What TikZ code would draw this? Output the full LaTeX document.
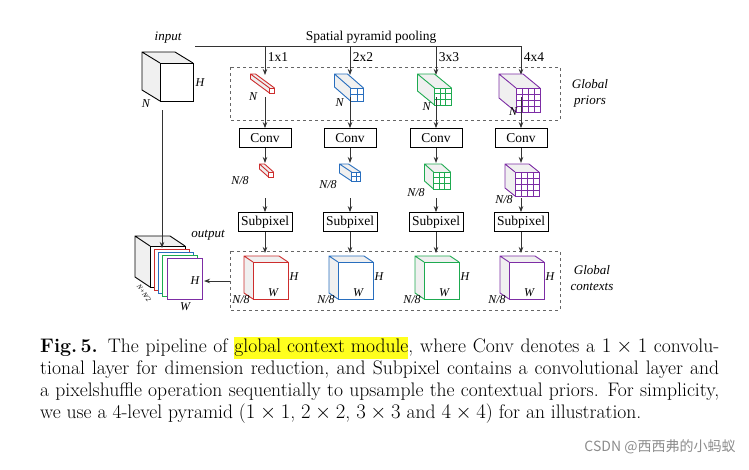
\documentclass[tikz,border=0pt]{standalone}
\usepackage{fontspec}
\newfontfamily\tms{Liberation Serif}
\newfontfamily\cjk{Noto Sans CJK SC}
\usepackage{tikz}
\usetikzlibrary{calc, arrows.meta}
\definecolor{cred}{RGB}{205,45,45}
\definecolor{cblue}{RGB}{40,110,190}
\definecolor{cgreen}{RGB}{30,170,80}
\definecolor{cpurple}{RGB}{125,45,165}
\definecolor{hilite}{RGB}{255,255,30}

% #1,#2: front top-left, #3,#4: size, #5,#6: depth, #7: colour, #8: grid
\newcommand{\tcube}[8]{
    \fill[gray!12] (#1,#2) -- ++(-#5,-#6) -- ++(0,#4) -- ++(#5,#6) -- cycle;
    \fill[gray!12] (#1,#2) -- ++(-#5,-#6) -- ++(#3,0) -- ++(#5,#6) -- cycle;
    \draw[#7, line width=0.9pt, line join=round]
        (#1,#2) -- ++(-#5,-#6) -- ++(#3,0) -- ++(#5,#6)
        (#1,#2) ++(-#5,-#6) -- ++(0,#4) -- ++(#5,#6);
    \draw[#7, line width=0.9pt, fill=white] (#1,#2) rectangle ++(#3,#4);
    \ifnum#8>1
        \pgfmathtruncatemacro{\gl}{#8-1}
        \foreach \k in {1,...,\gl} {
            \draw[#7, line width=0.8pt] ($(#1,#2)+(\k*#3/#8,0)$) -- ++(0,#4);
            \draw[#7, line width=0.8pt] ($(#1,#2)+(0,\k*#4/#8)$) -- ++(#3,0);
        }
    \fi
}

\begin{document}
\begin{tikzpicture}[x=1pt, y=-1pt,
    box/.style={draw, line width=0.8pt, minimum height=19pt, inner sep=2pt, font=\tms\fontsize{13.5}{15}\selectfont},
    lbl/.style={font=\tms\itshape\fontsize{12}{14}\selectfont, inner sep=0pt},
    txt/.style={font=\tms\fontsize{13.5}{15}\selectfont, inner sep=0pt},
    arr/.style={-{Stealth[length=6pt, width=4.5pt]}, line width=0.8pt, draw=black!80},
    region/.style={draw=black!60, dashed, line width=0.8pt}]
\useasboundingbox (0,0) rectangle (749,469);

% --- input ---
\tcube{160}{63}{33}{38}{18}{11}{black}{1}
\node[lbl, font=\tms\itshape\fontsize{13}{15}\selectfont] (input) at (168,38) {input};
\node[lbl] (inH) at (200,83) {H};
\node[lbl] (inN) at (146,104) {N};
\coordinate (inbot) at (162,110);

% --- pooling line ---
\coordinate (spL) at (195,46);
\coordinate (spR) at (521,46);
\draw[line width=0.8pt, black!80] (spL) -- (spR);
\node[txt] (spp) at (371,37) {Spatial pyramid pooling};

% --- regions ---
\draw[region] (230,67) rectangle (560,120);
\node[lbl, align=center, font=\tms\itshape\fontsize{13}{16}\selectfont] (gpri) at (590,93) {Global\\priors};
\draw[region] (230,251) rectangle (560,310);
\node[lbl, align=center, font=\tms\itshape\fontsize{13}{16}\selectfont] (gctx) at (592,278) {Global\\contexts};

% --- four branches ---
\foreach \cx/\col/\n/\name/\pw/\pdx/\sw/\sdx/\nx in
    {265/cred/1/1x1/5/19/5/9/8, 350/cblue/2/2x2/13/16/9/12/5, 436/cgreen/3/3x3/17/17/17/9/3, 521/cpurple/4/4x4/24/17/24/10/0} {
    \coordinate (top\n) at (\cx,46);
    \coordinate (pri\n) at (\cx,75);
    \node[txt] (lab\n) at (\cx+13,57) {\name};
    \draw[arr] (top\n) -- (pri\n);
    % prior
    \tcube{\cx+7-\pw/2}{88}{\pw}{\pw}{\pdx}{14}{\col}{\n}
    \node[lbl] (pN\n) at (\cx-8-\nx/2,92+\pw/2+\n*2) {N};
    \coordinate (priB\n) at (\cx,97);
    \node[box, minimum width=52pt] (conv\n) at (\cx,138) {Conv};
    \draw[arr] (priB\n) -- (conv\n);
    % reduced prior
    \coordinate (redT\n) at (\cx,163);
    \draw[arr] (conv\n) -- (redT\n);
    \tcube{\cx+6-\sw/2}{172}{\sw}{\sw}{\sdx}{8}{\col}{\n}
    \node[lbl] (rN\n) at (\cx-17-\nx,176+\sw) {N/8};
    \coordinate (redB\n) at (\cx,198);
    \node[box, minimum width=54pt] (sub\n) at (\cx,222) {Subpixel};
    \draw[arr] (redB\n) -- (sub\n);
    % context
    \coordinate (ctxT\n) at (\cx,253);
    \draw[arr] (sub\n) -- (ctxT\n);
    \tcube{\cx-12}{262}{35}{37}{9}{6}{\col}{1}
    \node[lbl] (cH\n) at (\cx+29,277) {H};
    \node[lbl] (cW\n) at (\cx+8,293) {W};
    \node[lbl] (cN\n) at (\cx-24,300) {N/8};
}

% --- output ---
\tcube{150}{246}{35}{41}{15}{10}{black}{1}
\draw[cred, line width=0.9pt, fill=white] (154,249) rectangle ++(35,41);
\draw[cblue, line width=0.9pt, fill=white] (158,252) rectangle ++(35,41);
\draw[cgreen, line width=0.9pt, fill=white] (162,255) rectangle ++(35,41);
\draw[cpurple, line width=0.9pt, fill=white] (167,258) rectangle ++(35,41);
\node[lbl, font=\tms\itshape\fontsize{13}{15}\selectfont] (output) at (208,235) {output};
\node[lbl] (oH) at (195,281) {H};
\node[lbl] (oW) at (185,307) {W};
\node[lbl, rotate=-55, font=\tms\itshape\fontsize{7}{8}\selectfont] (oN) at (144,293) {N+N/2};
\coordinate (outT) at (162,248);
\coordinate (ctxL) at (230,281);
\coordinate (outR) at (204,281);
\draw[arr] (inbot) -- (outT);
\draw[arr] (ctxL) -- (outR);

% --- caption ---
\node[anchor=north west, inner sep=0pt, text width=679pt, align=justify,
      font=\fontsize{19.6}{22}\selectfont] (caption) at (40,337)
    {\textbf{Fig.\,5.} The pipeline of {\setlength{\fboxsep}{0pt}\colorbox{hilite}{\strut global context module}}, where Conv denotes a $1\times1$ convolu-\linebreak
    tional layer for dimension reduction, and Subpixel contains a convolutional layer and\linebreak
    a pixelshuffle operation sequentially to upsample the contextual priors. For simplicity,\linebreak
    we use a 4-level pyramid ($1\times1$, $2\times2$, $3\times3$ and $4\times4$) for an illustration.\hfill\null};
\node[font=\cjk\fontsize{14}{16}\selectfont, text=black!45, inner sep=0pt] (mark) at (660,447) {CSDN @西西弗的小蚂蚁};
\end{tikzpicture}
\end{document}
